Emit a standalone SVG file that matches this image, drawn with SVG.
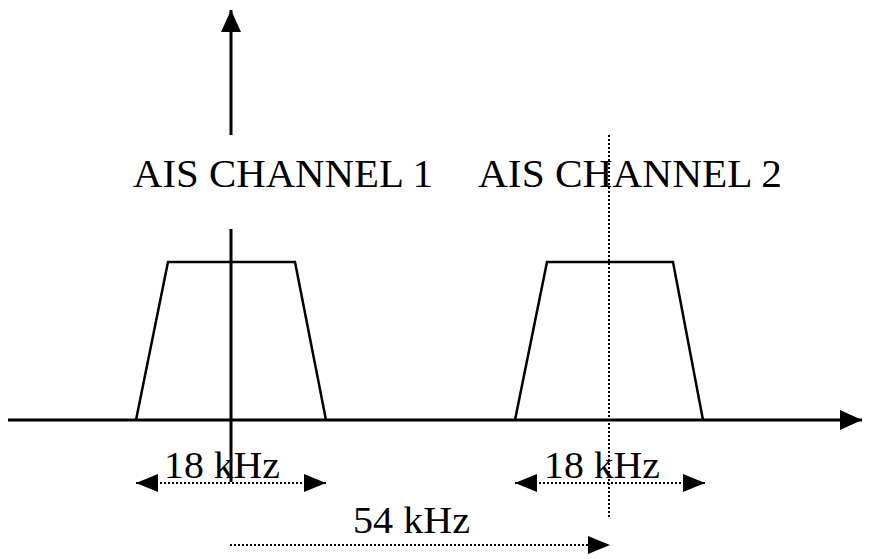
<svg xmlns="http://www.w3.org/2000/svg" width="879" height="559" viewBox="0 0 879 559">
<style>
.axis{stroke:#000;stroke-width:3;fill:none}
.band{stroke:#000;stroke-width:2.5;fill:none;stroke-linejoin:miter}
.dot{stroke:#000;stroke-width:2;fill:none;stroke-dasharray:2 2}
.lbl{font-family:"Liberation Serif","Times New Roman",serif;font-size:40px;fill:#000}
.sm{font-family:"Liberation Serif","Times New Roman",serif;font-size:38px;fill:#000}
</style>
<defs>
<marker id="big" markerUnits="userSpaceOnUse" markerWidth="24" markerHeight="22" refX="22" refY="10" orient="auto">
<path d="M0,0 L22,10 L0,20 Z" fill="#000"/>
</marker>
<marker id="small" markerUnits="userSpaceOnUse" markerWidth="24" markerHeight="20" refX="22" refY="9" orient="auto">
<path d="M0,0 L22,9 L0,18 Z" fill="#000"/>
</marker>
<marker id="smallStart" markerUnits="userSpaceOnUse" markerWidth="24" markerHeight="20" refX="0" refY="9" orient="auto">
<path d="M22,0 L0,9 L22,18 Z" fill="#000"/>
</marker>
</defs>
<rect width="879" height="559" fill="#fff"/>
<g id="connectors">
<line class="axis" x1="8" y1="420" x2="862" y2="420" marker-end="url(#big)"/>
<line class="axis" x1="231" y1="135" x2="231" y2="10" marker-end="url(#big)"/>
<line class="axis" x1="231" y1="229" x2="231" y2="482"/>
<line class="dot" x1="609" y1="135" x2="609" y2="518"/>
<line class="dot" x1="136" y1="483" x2="326" y2="483" marker-start="url(#smallStart)" marker-end="url(#small)"/>
<line class="dot" x1="515" y1="483" x2="705" y2="483" marker-start="url(#smallStart)" marker-end="url(#small)"/>
<line class="dot" x1="230" y1="545" x2="610" y2="545" marker-end="url(#small)"/>
</g>
<g id="channel1">
<polyline class="band" points="136,420 168,262 295,262 326,420"/>
<text class="lbl" x="133" y="187" textLength="300" lengthAdjust="spacingAndGlyphs">AIS CHANNEL 1</text>
</g>
<g id="channel2">
<polyline class="band" points="515,420 547,262 673,262 703,420"/>
<text class="lbl" x="478" y="187" textLength="304" lengthAdjust="spacingAndGlyphs">AIS CHANNEL 2</text>
</g>
<g id="bw1">
<text class="sm" x="164" y="478" textLength="116" lengthAdjust="spacingAndGlyphs">18 kHz</text>
</g>
<g id="bw2">
<text class="sm" x="544" y="478" textLength="116" lengthAdjust="spacingAndGlyphs">18 kHz</text>
</g>
<g id="spacing">
<text class="sm" x="353" y="533" textLength="117" lengthAdjust="spacingAndGlyphs">54 kHz</text>
</g>
</svg>
